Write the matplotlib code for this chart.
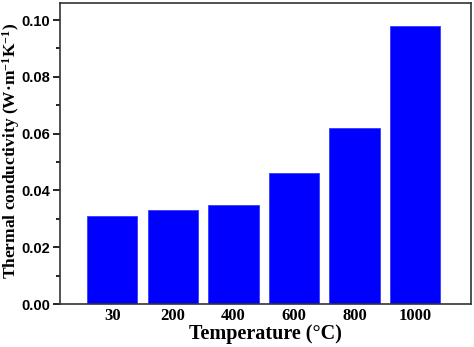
import matplotlib
matplotlib.use('Agg')
import matplotlib.pyplot as plt
from matplotlib.ticker import MultipleLocator

temps = ['30', '200', '400', '600', '800', '1000']
conductivity = [0.031, 0.033, 0.035, 0.046, 0.062, 0.098]

plt.rcParams['mathtext.fontset'] = 'custom'
plt.rcParams['mathtext.rm'] = 'Liberation Serif:bold'
plt.rcParams['mathtext.bf'] = 'Liberation Serif:bold'
plt.rcParams['mathtext.it'] = 'Liberation Serif:bold'

def main():
	fig = plt.figure(figsize=(4.74, 3.47), dpi=100)
	ax = fig.add_axes([0.1266, 0.1239, 0.8671, 0.8675])

	x = range(len(temps))
	ax.bar(x, conductivity, width=0.83, color='#0000FF', edgecolor='#3a3aff', linewidth=0.6)

	ax.set_xlim(-0.86, 5.92)
	ax.set_ylim(0, 0.106)
	ax.set_xticks(list(x))
	ax.set_xticklabels(temps, fontfamily='Liberation Serif', fontweight='bold', fontsize=12)
	ax.tick_params(axis='x', length=0, pad=3)

	ax.yaxis.set_major_locator(MultipleLocator(0.02))
	ax.yaxis.set_minor_locator(MultipleLocator(0.01))
	ax.yaxis.set_major_formatter(plt.FuncFormatter(lambda v, p: '%.2f' % v))
	ax.tick_params(axis='y', which='major', direction='out', length=5, width=1.2, labelsize=10.5, pad=2)
	ax.tick_params(axis='y', which='minor', direction='out', length=3, width=1.2)
	for lab in ax.get_yticklabels():
		lab.set_fontfamily('Liberation Sans')
		lab.set_fontweight('bold')

	for sp in ax.spines.values():
		sp.set_linewidth(1.2)
		sp.set_color('#333333')

	ax.set_xlabel('Temperature (\u00b0C)', fontfamily='Liberation Serif', fontweight='bold', fontsize=14.5, labelpad=0)
	ax.set_ylabel('Thermal conductivity (W\u00b7m$^{-1}$K$^{-1}$)',
		fontfamily='Liberation Serif', fontweight='bold', fontsize=12.5)
	ax.yaxis.set_label_coords(-0.093, 0.508)

	fig.savefig('out.png', dpi=100)

if __name__ == '__main__':
	main()
